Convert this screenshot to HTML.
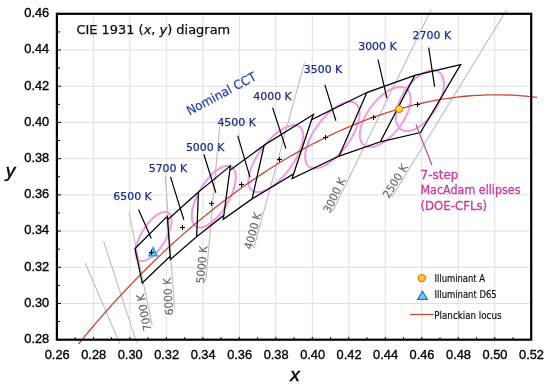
<!DOCTYPE html>
<html><head><meta charset="utf-8"><title>CIE 1931 (x, y) diagram</title>
<style>html,body{margin:0;padding:0;background:#fff}svg{display:block}</style></head>
<body>
<svg width="550" height="390" viewBox="0 0 550 390">
<rect width="550" height="390" fill="#fff"/>
<path d="M93.38 13.8V339.7M129.87 13.8V339.7M166.35 13.8V339.7M202.84 13.8V339.7M239.32 13.8V339.7M275.81 13.8V339.7M312.29 13.8V339.7M348.78 13.8V339.7M385.26 13.8V339.7M421.75 13.8V339.7M458.23 13.8V339.7M494.72 13.8V339.7M56.9 303.49H531.2M56.9 267.28H531.2M56.9 231.07H531.2M56.9 194.86H531.2M56.9 158.64H531.2M56.9 122.43H531.2M56.9 86.22H531.2M56.9 50.01H531.2" stroke="#e0e0e0" stroke-width="1" fill="none"/>
<defs><clipPath id="c"><rect x="52.9" y="9.6" width="484.1" height="334.3"/></clipPath></defs>
<g clip-path="url(#c)" fill="none">
<path d="M529.7 -27.8L391.68 197.26M438.45 -5.38L332.67 211.31M304.43 62.73L253.78 248.11M219.7 126.2L205.77 280.86M165.32 175.69L174.47 308.69M128.96 212.98L152.25 325.55M103.57 241.22L136.69 342.6M85.13 262.97L124.75 354.98" stroke="#bcbcbc" stroke-width="1.1"/>
<path d="M138.9 260.35 L138.05 259.71 L137.32 258.9 L136.71 257.91 L136.24 256.76 L135.89 255.46 L135.68 254.01 L135.61 252.43 L135.67 250.73 L135.87 248.92 L136.2 247.01 L136.67 245.03 L137.26 242.98 L137.98 240.88 L138.82 238.75 L139.77 236.6 L140.82 234.45 L141.98 232.31 L143.22 230.21 L144.54 228.15 L145.92 226.16 L147.37 224.25 L148.87 222.43 L150.4 220.72 L151.95 219.13 L153.52 217.66 L155.08 216.35 L156.64 215.18 L158.17 214.18 L159.67 213.35 L161.12 212.7 L162.52 212.22 L163.84 211.93 L165.09 211.83 L166.25 211.92 L167.31 212.19 L168.27 212.64 L169.12 213.28 L169.85 214.1 L170.46 215.09 L170.93 216.23 L171.28 217.54 L171.49 218.99 L171.56 220.57 L171.5 222.27 L171.3 224.08 L170.97 225.98 L170.5 227.97 L169.91 230.02 L169.19 232.12 L168.35 234.25 L167.4 236.4 L166.35 238.55 L165.19 240.68 L163.95 242.79 L162.63 244.84 L161.24 246.83 L159.8 248.75 L158.3 250.57 L156.77 252.28 L155.22 253.87 L153.65 255.33 L152.08 256.65 L150.53 257.81 L149 258.81 L147.5 259.65 L146.05 260.3 L144.65 260.77 L143.33 261.06 L142.08 261.17 L140.92 261.08 L139.85 260.81 Z" stroke="#ee9ee8" stroke-width="2.1"/>
<path d="M196.11 226.6 L195.03 225.82 L194.1 224.82 L193.32 223.6 L192.69 222.18 L192.23 220.57 L191.92 218.77 L191.79 216.81 L191.82 214.69 L192.02 212.44 L192.38 210.06 L192.91 207.59 L193.6 205.03 L194.44 202.4 L195.42 199.74 L196.55 197.05 L197.81 194.35 L199.19 191.68 L200.68 189.04 L202.27 186.46 L203.95 183.96 L205.7 181.56 L207.51 179.27 L209.37 177.11 L211.27 175.1 L213.19 173.25 L215.1 171.59 L217.01 170.11 L218.9 168.84 L220.74 167.78 L222.54 166.93 L224.26 166.32 L225.91 165.93 L227.46 165.78 L228.91 165.87 L230.25 166.19 L231.46 166.74 L232.53 167.52 L233.47 168.52 L234.25 169.73 L234.88 171.15 L235.34 172.76 L235.64 174.56 L235.78 176.52 L235.75 178.64 L235.55 180.89 L235.19 183.27 L234.66 185.75 L233.97 188.3 L233.13 190.93 L232.15 193.59 L231.02 196.28 L229.76 198.98 L228.38 201.65 L226.89 204.29 L225.3 206.87 L223.62 209.37 L221.87 211.78 L220.05 214.07 L218.19 216.22 L216.3 218.23 L214.38 220.08 L212.46 221.74 L210.55 223.22 L208.67 224.49 L206.82 225.56 L205.03 226.4 L203.3 227.01 L201.66 227.4 L200.1 227.55 L198.65 227.46 L197.32 227.15 Z" stroke="#ee9ee8" stroke-width="2.1"/>
<path d="M252.16 190.61 L251.05 189.61 L250.12 188.37 L249.39 186.91 L248.85 185.23 L248.53 183.35 L248.41 181.28 L248.5 179.04 L248.8 176.65 L249.3 174.11 L250 171.46 L250.91 168.72 L252 165.89 L253.27 163.01 L254.71 160.1 L256.32 157.17 L258.07 154.26 L259.96 151.38 L261.96 148.56 L264.08 145.81 L266.28 143.16 L268.56 140.63 L270.89 138.23 L273.25 135.99 L275.64 133.93 L278.03 132.05 L280.4 130.37 L282.74 128.91 L285.02 127.67 L287.24 126.67 L289.36 125.92 L291.39 125.41 L293.29 125.16 L295.06 125.16 L296.69 125.41 L298.16 125.92 L299.45 126.68 L300.57 127.68 L301.5 128.92 L302.23 130.38 L302.76 132.06 L303.09 133.94 L303.21 136.01 L303.12 138.25 L302.82 140.64 L302.32 143.18 L301.61 145.83 L300.71 148.57 L299.62 151.4 L298.35 154.28 L296.9 157.19 L295.3 160.12 L293.55 163.03 L291.66 165.91 L289.65 168.73 L287.54 171.48 L285.34 174.13 L283.06 176.66 L280.73 179.06 L278.36 181.3 L275.97 183.36 L273.59 185.24 L271.21 186.92 L268.88 188.38 L266.59 189.61 L264.38 190.61 L262.25 191.37 L260.23 191.88 L258.32 192.13 L256.55 192.13 L254.93 191.87 L253.46 191.37 Z" stroke="#ee9ee8" stroke-width="2.1"/>
<path d="M309.16 166.8 L308.01 165.78 L307.04 164.53 L306.26 163.06 L305.69 161.37 L305.31 159.48 L305.14 157.41 L305.18 155.17 L305.43 152.78 L305.88 150.25 L306.53 147.6 L307.38 144.86 L308.42 142.05 L309.64 139.18 L311.03 136.29 L312.59 133.38 L314.29 130.49 L316.14 127.63 L318.1 124.83 L320.18 122.11 L322.35 119.48 L324.59 116.98 L326.9 114.61 L329.24 112.4 L331.61 110.36 L333.99 108.51 L336.35 106.86 L338.68 105.43 L340.96 104.23 L343.18 103.25 L345.32 102.53 L347.36 102.04 L349.28 101.81 L351.07 101.84 L352.73 102.12 L354.22 102.64 L355.55 103.42 L356.71 104.44 L357.68 105.68 L358.45 107.16 L359.03 108.85 L359.4 110.73 L359.57 112.8 L359.54 115.04 L359.29 117.44 L358.84 119.97 L358.19 122.61 L357.34 125.35 L356.3 128.16 L355.08 131.03 L353.69 133.93 L352.13 136.83 L350.42 139.73 L348.58 142.58 L346.61 145.39 L344.54 148.11 L342.37 150.73 L340.12 153.24 L337.82 155.6 L335.47 157.81 L333.11 159.85 L330.73 161.7 L328.37 163.35 L326.04 164.78 L323.75 165.99 L321.53 166.96 L319.4 167.69 L317.36 168.17 L315.44 168.4 L313.64 168.38 L311.99 168.1 L310.49 167.57 Z" stroke="#ee9ee8" stroke-width="2.1"/>
<path d="M363.99 145.24 L362.85 144.23 L361.88 143.01 L361.1 141.6 L360.49 139.99 L360.08 138.21 L359.85 136.27 L359.82 134.19 L359.98 131.97 L360.34 129.64 L360.88 127.21 L361.61 124.71 L362.52 122.14 L363.61 119.54 L364.86 116.92 L366.26 114.3 L367.81 111.69 L369.49 109.13 L371.29 106.63 L373.2 104.21 L375.2 101.89 L377.27 99.68 L379.41 97.6 L381.59 95.67 L383.8 93.9 L386.02 92.31 L388.23 90.91 L390.42 89.7 L392.58 88.7 L394.67 87.92 L396.7 87.36 L398.64 87.03 L400.47 86.92 L402.19 87.04 L403.79 87.39 L405.24 87.97 L406.54 88.76 L407.67 89.77 L408.64 90.99 L409.43 92.41 L410.03 94.01 L410.45 95.79 L410.67 97.73 L410.7 99.82 L410.54 102.03 L410.18 104.37 L409.64 106.79 L408.91 109.3 L408 111.86 L406.91 114.46 L405.67 117.09 L404.26 119.71 L402.72 122.31 L401.03 124.87 L399.23 127.37 L397.33 129.79 L395.33 132.12 L393.25 134.33 L391.11 136.4 L388.93 138.33 L386.72 140.1 L384.5 141.69 L382.29 143.1 L380.1 144.3 L377.95 145.3 L375.85 146.08 L373.82 146.64 L371.89 146.98 L370.05 147.08 L368.33 146.96 L366.74 146.61 L365.29 146.04 Z" stroke="#ee9ee8" stroke-width="2.1"/>
<path d="M401.24 129.57 L400 128.62 L398.9 127.46 L397.97 126.09 L397.21 124.54 L396.62 122.8 L396.2 120.89 L395.97 118.83 L395.92 116.63 L396.05 114.31 L396.36 111.89 L396.85 109.38 L397.52 106.81 L398.36 104.19 L399.36 101.54 L400.52 98.89 L401.83 96.25 L403.27 93.64 L404.84 91.09 L406.53 88.61 L408.31 86.22 L410.19 83.95 L412.14 81.8 L414.15 79.79 L416.2 77.95 L418.28 76.28 L420.38 74.79 L422.47 73.5 L424.54 72.42 L426.58 71.55 L428.56 70.9 L430.48 70.49 L432.32 70.3 L434.06 70.34 L435.7 70.62 L437.22 71.12 L438.6 71.85 L439.85 72.79 L440.94 73.96 L441.87 75.32 L442.64 76.88 L443.23 78.61 L443.64 80.52 L443.88 82.58 L443.93 84.78 L443.8 87.1 L443.48 89.52 L442.99 92.03 L442.32 94.6 L441.49 97.23 L440.48 99.87 L439.32 102.53 L438.02 105.17 L436.57 107.77 L435 110.32 L433.32 112.8 L431.53 115.19 L429.65 117.47 L427.7 119.61 L425.69 121.62 L423.64 123.46 L421.56 125.14 L419.47 126.62 L417.38 127.91 L415.3 129 L413.27 129.86 L411.28 130.51 L409.36 130.93 L407.52 131.12 L405.78 131.07 L404.14 130.8 L402.63 130.29 Z" stroke="#ee9ee8" stroke-width="2.1"/>
<path d="M75.33 347.91 L80.25 341.83 L85.3 335.68 L90.5 329.47 L95.82 323.2 L101.28 316.88 L106.85 310.54 L112.55 304.18 L118.36 297.81 L124.27 291.45 L130.29 285.1 L136.4 278.77 L142.6 272.48 L148.89 266.23 L155.25 260.03 L161.68 253.89 L168.18 247.81 L174.74 241.81 L181.36 235.89 L188.03 230.06 L194.73 224.33 L201.48 218.69 L208.26 213.16 L215.07 207.74 L221.9 202.43 L228.74 197.23 L235.6 192.16 L242.47 187.22 L249.34 182.4 L256.21 177.71 L263.08 173.15 L269.93 168.72 L276.78 164.43 L283.6 160.28 L290.41 156.26 L297.19 152.38 L303.94 148.63 L310.66 145.03 L317.35 141.56 L324 138.23 L330.62 135.04 L337.19 131.99 L343.71 129.07 L350.19 126.28 L356.63 123.63 L363.01 121.11 L369.34 118.72 L375.61 116.46 L381.83 114.32 L387.99 112.31 L394.1 110.42 L400.14 108.66 L406.12 107.01 L412.05 105.48 L417.91 104.06 L423.7 102.75 L429.43 101.56 L435.1 100.46 L440.71 99.48 L446.24 98.59 L451.71 97.81 L457.12 97.12 L462.46 96.52 L467.74 96.02 L472.95 95.61 L478.09 95.28 L483.17 95.03 L488.18 94.87 L493.13 94.79 L498.01 94.78 L502.83 94.84 L507.58 94.98 L512.27 95.18 L516.9 95.46 L521.47 95.79 L525.97 96.19 L530.41 96.65 L534.8 97.16 L539.12 97.73 L543.38 98.35" stroke="#c44a33" stroke-width="1.3"/>
</g>
<path d="M460.6 64.68 L414.81 75.36 L380.34 141.81 L420.47 132.57 ZM414.81 75.36 L366.84 92.56 L339.11 156.11 L380.34 141.81 ZM366.84 92.56 L311.56 119.72 L292.04 178.56 L339.11 156.11 ZM313.39 114.47 L264.13 145.25 L252.09 198.84 L293.69 173.85 ZM264.13 145.25 L229.84 170.23 L223.27 219.3 L252.09 198.84 ZM230.38 165.89 L198.46 191.96 L196.64 236.68 L223.82 215.31 ZM198.46 191.96 L167.63 219.84 L170.37 259.49 L196.64 236.68 ZM167.27 216.4 L134.98 248.45 L142.27 283.03 L170.18 256.23 Z" stroke="#000" stroke-width="1.25" fill="none" stroke-linejoin="miter"/>
<rect x="56.9" y="13.8" width="474.3" height="325.9" fill="none" stroke="#000" stroke-width="2.2"/>
<path d="M56.9 339.7v-2.8M75.14 339.7v-2.5M93.38 339.7v-2.8M111.63 339.7v-2.5M129.87 339.7v-2.8M148.11 339.7v-2.5M166.35 339.7v-2.8M184.6 339.7v-2.5M202.84 339.7v-2.8M221.08 339.7v-2.5M239.32 339.7v-2.8M257.57 339.7v-2.5M275.81 339.7v-2.8M294.05 339.7v-2.5M312.29 339.7v-2.8M330.53 339.7v-2.5M348.78 339.7v-2.8M367.02 339.7v-2.5M385.26 339.7v-2.8M403.5 339.7v-2.5M421.75 339.7v-2.8M439.99 339.7v-2.5M458.23 339.7v-2.8M476.47 339.7v-2.5M494.72 339.7v-2.8M512.96 339.7v-2.5M531.2 339.7v-2.8M56.9 339.7h4M56.9 321.59h3.1M56.9 303.49h4M56.9 285.38h3.1M56.9 267.28h4M56.9 249.17h3.1M56.9 231.07h4M56.9 212.96h3.1M56.9 194.86h4M56.9 176.75h3.1M56.9 158.64h4M56.9 140.54h3.1M56.9 122.43h4M56.9 104.33h3.1M56.9 86.22h4M56.9 68.12h3.1M56.9 50.01h4M56.9 31.91h3.1M56.9 13.8h4" stroke="#000" stroke-width="1" fill="none"/>
<path d="M415 104.5h5M417.5 102v5M371 117.5h5M373.5 115v5M323 137.5h5M325.5 135v5M277 159.5h5M279.5 157v5M239 184.5h5M241.5 182v5M209 203.5h5M211.5 201v5M180 227.5h5M182.5 225v5M150 252.5h5M152.5 250v5" stroke="#000" stroke-width="1.1" fill="none"/>
<circle cx="399.13" cy="109.04" r="3.3" fill="#ffe81a" stroke="#e27a1e" stroke-width="1.2"/>
<path d="M153.04 247.18l4.4 8.8h-8.8z" fill="#4ccaf8" stroke="#2484e2" stroke-width="1.05"/>
<path d="M149 252.5h5M151.5 250v5" stroke="#000" stroke-width="1.1"/>
<circle cx="421.8" cy="278.1" r="3.6" fill="#ffd21a" stroke="#e2701e" stroke-width="1.2"/>
<path d="M422.5 291.2l4.8 8.2h-9.6z" fill="#6fd2fb" stroke="#2070dc" stroke-width="1.2"/>
<path d="M409.8 314.5H433.8" stroke="#c44a33" stroke-width="1.3"/>
<g font-family="'DejaVu Sans','Liberation Sans',sans-serif" font-size="10" fill="#111" stroke="#111" stroke-width="0.2">
<text x="434.5" y="281.6" textLength="50.5" lengthAdjust="spacingAndGlyphs">Illuminant A</text>
<text x="434.5" y="297.6" textLength="62.2" lengthAdjust="spacingAndGlyphs">Illuminant D65</text>
<text x="434.3" y="318.6" textLength="67.2" lengthAdjust="spacingAndGlyphs">Planckian locus</text>
</g>
<text x="76.4" y="33.6" font-family="'DejaVu Sans','Liberation Sans',sans-serif" font-size="12" fill="#111" stroke="#111" stroke-width="0.25" textLength="153.8" lengthAdjust="spacingAndGlyphs">CIE 1931 (<tspan font-style="italic">x</tspan>, <tspan font-style="italic">y</tspan>) diagram</text>
<g font-family="'Liberation Sans',sans-serif" font-size="12.8" fill="#000" stroke="#000" stroke-width="0.35">
<text x="57.2" y="358.5" text-anchor="middle">0.26</text>
<text x="93.68" y="358.5" text-anchor="middle">0.28</text>
<text x="130.17" y="358.5" text-anchor="middle">0.30</text>
<text x="166.65" y="358.5" text-anchor="middle">0.32</text>
<text x="203.14" y="358.5" text-anchor="middle">0.34</text>
<text x="239.62" y="358.5" text-anchor="middle">0.36</text>
<text x="276.11" y="358.5" text-anchor="middle">0.38</text>
<text x="312.59" y="358.5" text-anchor="middle">0.40</text>
<text x="349.08" y="358.5" text-anchor="middle">0.42</text>
<text x="385.56" y="358.5" text-anchor="middle">0.44</text>
<text x="422.05" y="358.5" text-anchor="middle">0.46</text>
<text x="458.53" y="358.5" text-anchor="middle">0.48</text>
<text x="495.02" y="358.5" text-anchor="middle">0.50</text>
<text x="531.5" y="358.5" text-anchor="middle">0.52</text>
<text x="49.2" y="343.1" text-anchor="end">0.28</text>
<text x="49.2" y="306.89" text-anchor="end">0.30</text>
<text x="49.2" y="270.68" text-anchor="end">0.32</text>
<text x="49.2" y="234.47" text-anchor="end">0.34</text>
<text x="49.2" y="198.26" text-anchor="end">0.36</text>
<text x="49.2" y="162.04" text-anchor="end">0.38</text>
<text x="49.2" y="125.83" text-anchor="end">0.40</text>
<text x="49.2" y="89.62" text-anchor="end">0.42</text>
<text x="49.2" y="53.41" text-anchor="end">0.44</text>
<text x="49.2" y="17.2" text-anchor="end">0.46</text>
</g>
<text x="295" y="381.3" font-family="'Liberation Sans',sans-serif" font-size="19" font-style="italic" fill="#000" stroke="#000" stroke-width="0.45" text-anchor="middle">x</text>
<text x="10.5" y="177" font-family="'Liberation Sans',sans-serif" font-size="19" font-style="italic" fill="#000" stroke="#000" stroke-width="0.45" text-anchor="middle">y</text>
<g font-family="'DejaVu Sans','Liberation Sans',sans-serif" font-size="11" fill="#686868" stroke="#686868" stroke-width="0.15">
<text transform="translate(389.33 201.09) rotate(-58.48)" x="1.5" y="-1.6" textLength="37.5" lengthAdjust="spacingAndGlyphs">2500 K</text>
<text transform="translate(331.1 214.55) rotate(-63.98)" x="0" y="-1.6" textLength="37.5" lengthAdjust="spacingAndGlyphs">3000 K</text>
<text transform="translate(253.25 250.03) rotate(-74.72)" x="-0.4" y="-1.6" textLength="37.5" lengthAdjust="spacingAndGlyphs">4000 K</text>
<text transform="translate(205.68 281.85) rotate(-84.85)" x="-2" y="-1.6" textLength="37.5" lengthAdjust="spacingAndGlyphs">5000 K</text>
<text transform="translate(174.36 307.2) rotate(-93.93)" x="-7.7" y="-1.6" textLength="37.5" lengthAdjust="spacingAndGlyphs">6000 K</text>
<text transform="translate(152.55 327.02) rotate(-101.69)" x="-2.8" y="-1.6" textLength="37.5" lengthAdjust="spacingAndGlyphs">7000 K</text>
</g>
<g font-family="'DejaVu Sans','Liberation Sans',sans-serif" font-size="11" fill="#1c2c8c" stroke="#1c2c8c" stroke-width="0.25">
<text x="113.3" y="200.2" textLength="38.5" lengthAdjust="spacingAndGlyphs">6500 K</text>
<text x="148.7" y="172" textLength="38.5" lengthAdjust="spacingAndGlyphs">5700 K</text>
<text x="185.9" y="151" textLength="38.5" lengthAdjust="spacingAndGlyphs">5000 K</text>
<text x="217.4" y="125.9" textLength="38.5" lengthAdjust="spacingAndGlyphs">4500 K</text>
<text x="253.3" y="99.5" textLength="38.5" lengthAdjust="spacingAndGlyphs">4000 K</text>
<text x="303.8" y="73.3" textLength="38.5" lengthAdjust="spacingAndGlyphs">3500 K</text>
<text x="358.2" y="50" textLength="38.5" lengthAdjust="spacingAndGlyphs">3000 K</text>
<text x="412.6" y="39" textLength="38.5" lengthAdjust="spacingAndGlyphs">2700 K</text>
</g>
<path d="M138.5 209.5L151.3 238.5M170.5 176.9L183.8 219.7M203.8 154.2L215.9 192.8M237.7 135.6L250 177.2M272.6 107.6L285.9 148.5M324.9 84.9L335.9 120.8M378 59.7L386.9 98.2M428.7 47.7L434.6 86.7" stroke="#000" stroke-width="1.2" fill="none"/>
<text transform="translate(189.4 115.5) rotate(-28)" font-family="'DejaVu Sans','Liberation Sans',sans-serif" font-size="12.5" fill="#2340b8" stroke="#2340b8" stroke-width="0.2" textLength="77" lengthAdjust="spacingAndGlyphs">Nominal CCT</text>
<path d="M415.9 124.4L432 165.4" stroke="#c4408c" stroke-width="1.2"/>
<g font-family="'DejaVu Sans','Liberation Sans',sans-serif" font-size="12" fill="#cc3c94" stroke="#cc3c94" stroke-width="0.3">
<text x="420.5" y="178.8" textLength="38" lengthAdjust="spacingAndGlyphs">7-step</text>
<text x="420.5" y="194.1" textLength="100" lengthAdjust="spacingAndGlyphs">MacAdam ellipses</text>
<text x="420.5" y="210" textLength="66.7" lengthAdjust="spacingAndGlyphs">(DOE-CFLs)</text>
</g>
</svg>
</body></html>
